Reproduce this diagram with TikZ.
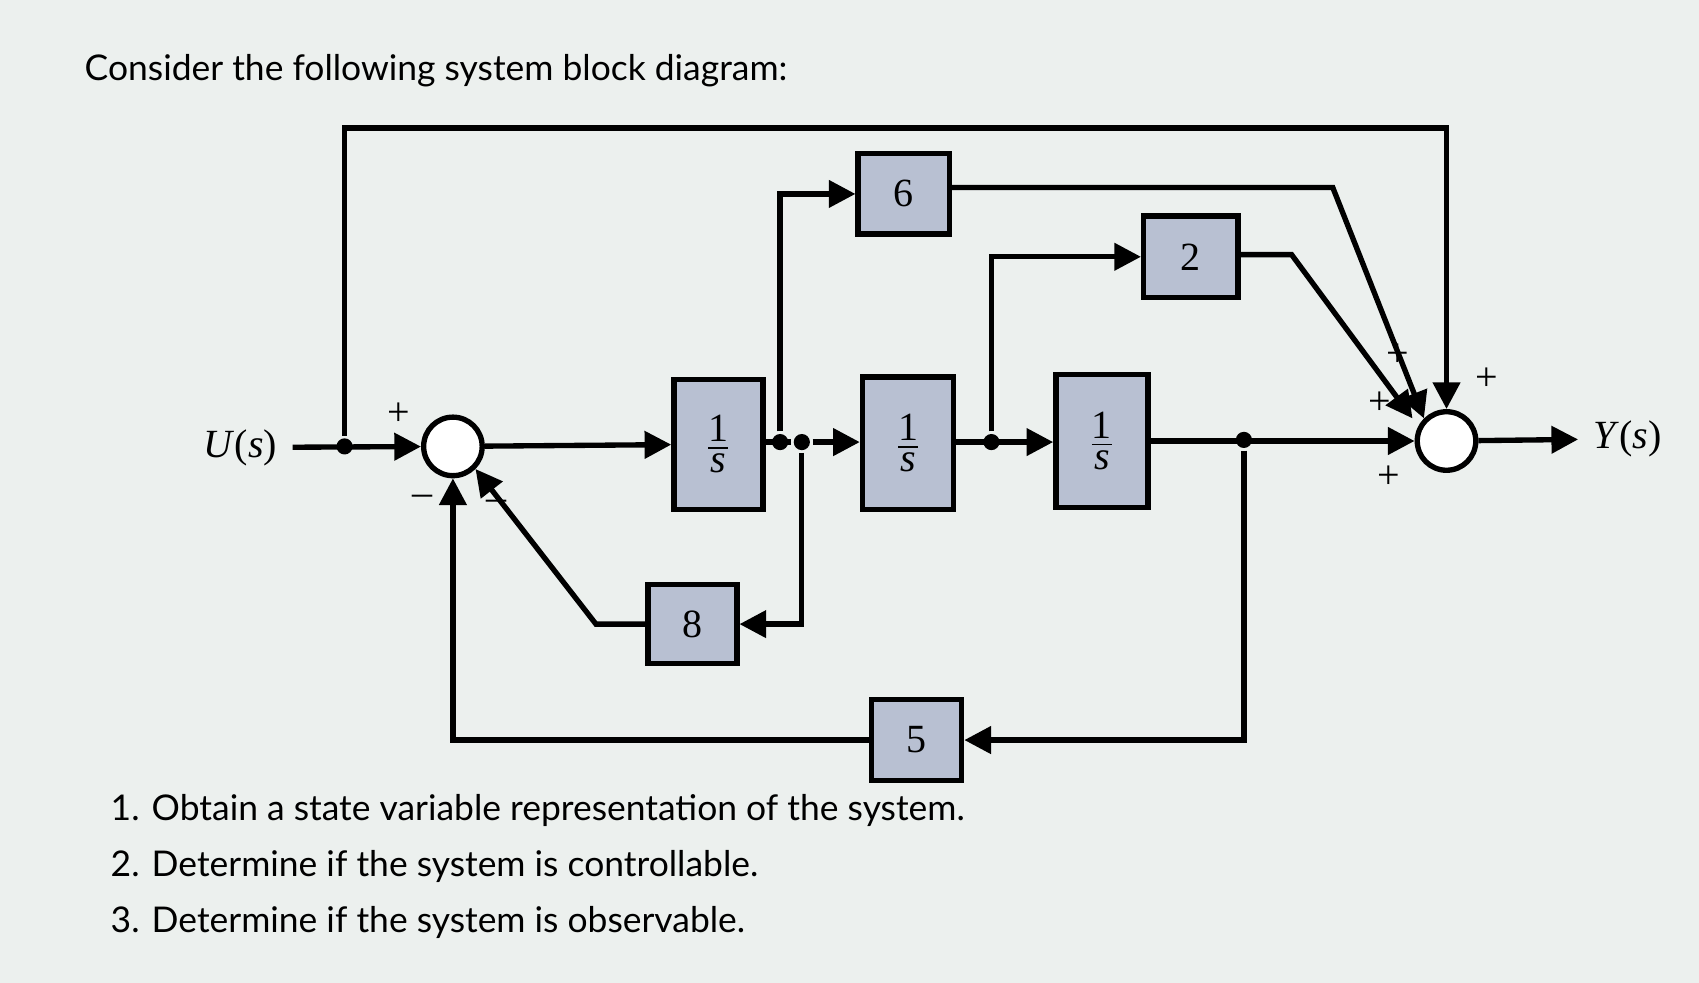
\documentclass[tikz,border=0pt]{standalone}
\usepackage{fontspec}
\setmainfont{Liberation Serif}
\newfontfamily\qsans{Lato}
\usetikzlibrary{arrows.meta,positioning}
\definecolor{blockfill}{RGB}{184, 192, 210}
\definecolor{paper}{RGB}{236, 240, 238}
\newcommand{\invs}{$\frac{\textrm{1}}{\textit{s}}$}

\begin{document}
\begin{tikzpicture}[x=0.01cm, y=-0.01cm, line width=1.4pt,
    blk/.style={draw, fill=blockfill, font=\fontsize{10.5}{12}\selectfont, inner sep=0pt},
    sum/.style={draw, circle, fill=white, minimum size=0.54cm, inner sep=0pt},
    arr/.style={-{Triangle[length=7pt,width=7pt]}},
    dot/.style={circle, fill, inner sep=1.5pt},
    sgn/.style={font=\fontsize{10.5}{12}\selectfont},
    qtext/.style={anchor=west, font=\qsans\fontsize{9.3}{11}\selectfont}]
  \fill[paper] (0,0) rectangle (1568,907);
  \useasboundingbox (0,0) rectangle (1568,907);
  % question text
  \node[qtext] (title) at (64,65) {Consider the following system block diagram:};
  \node[qtext] (q1) at (88,748) {1. Obtain a state variable representation of the system.};
  \node[qtext] (q2) at (88,800) {2. Determine if the system is controllable.};
  \node[qtext] (q3) at (88,851) {3. Determine if the system is observable.};

  % blocks
  \node[blk, minimum width=0.82cm, minimum height=1.2cm] (int1) at (663,410) {\invs};
  \node[blk, minimum width=0.84cm, minimum height=1.22cm] (int2) at (838,409) {\invs};
  \node[blk, minimum width=0.85cm, minimum height=1.23cm] (int3) at (1017,407) {\invs};
  \node[blk, minimum width=0.84cm, minimum height=0.74cm] (g6) at (834,179) {6};
  \node[blk, minimum width=0.87cm, minimum height=0.75cm] (g2) at (1099,237) {2};
  \node[blk, minimum width=0.82cm, minimum height=0.73cm] (g8) at (639,576) {8};
  \node[blk, minimum width=0.83cm, minimum height=0.75cm] (g5) at (846,683) {5};
  \node[sum] (s1) at (418,412) {};
  \node[sum] (s2) at (1335,407) {};
  \node[sgn] (u) at (222,413) {\textit{U}(\textit{s})};
  \node[sgn] (y) at (1502,405) {\textit{Y}(\textit{s})};

  % branch points
  \node[dot] (bu) at (318,412) {};
  \node[dot] (b1a) at (720,408) {};
  \node[dot] (b1b) at (740,408) {};
  \node[dot] (b2) at (915,408) {};
  \node[dot] (b3) at (1148,406) {};
  \coordinate (c6) at (1230,173);
  \coordinate (c2) at (1192,235);

  % forward path
  \draw[arr] (u) -- (s1);
  \draw[arr] (s1) -- (int1);
  \draw (int1.east |- b1a) -- (b1b);
  \draw[arr] (b1b) -- (int2.west |- b1b);
  \draw[arr] (int2.east |- b2) -- (int3.west |- b2);
  \draw[arr] (int3.east |- s2) -- (s2);
  \draw[arr] (s2) -- (y);

  % feedforward paths
  \draw[arr] (bu) |- (318,118) -| (s2.north);
  \draw[arr] (b1a) |- (g6);
  \draw[arr] (b2) |- (g2);
  \draw[arr] (g6.east |- c6) -- (c6) -- (s2.north west);
  \draw[arr] (g2.east |- c2) -- (c2) -- ([xshift=-3pt]s2.north west);

  % feedback paths
  \draw[arr] (b1b) |- (g8);
  \draw[arr] (g8.west) -- (550,576) -- (s1.south east);
  \draw[arr] (b3) |- (g5);
  \draw[arr] (g5.west) -| (s1.south);

  % signs
  \node[sgn] at (368,382) {+};
  \node[sgn] at (390,462) {--};
  \node[sgn] at (458,466) {--};
  \node[sgn] at (1290,328) {+};
  \node[sgn] at (1372,350) {+};
  \node[sgn] at (1273,372) {+};
  \node[sgn] at (1282,440) {+};
\end{tikzpicture}
\end{document}
